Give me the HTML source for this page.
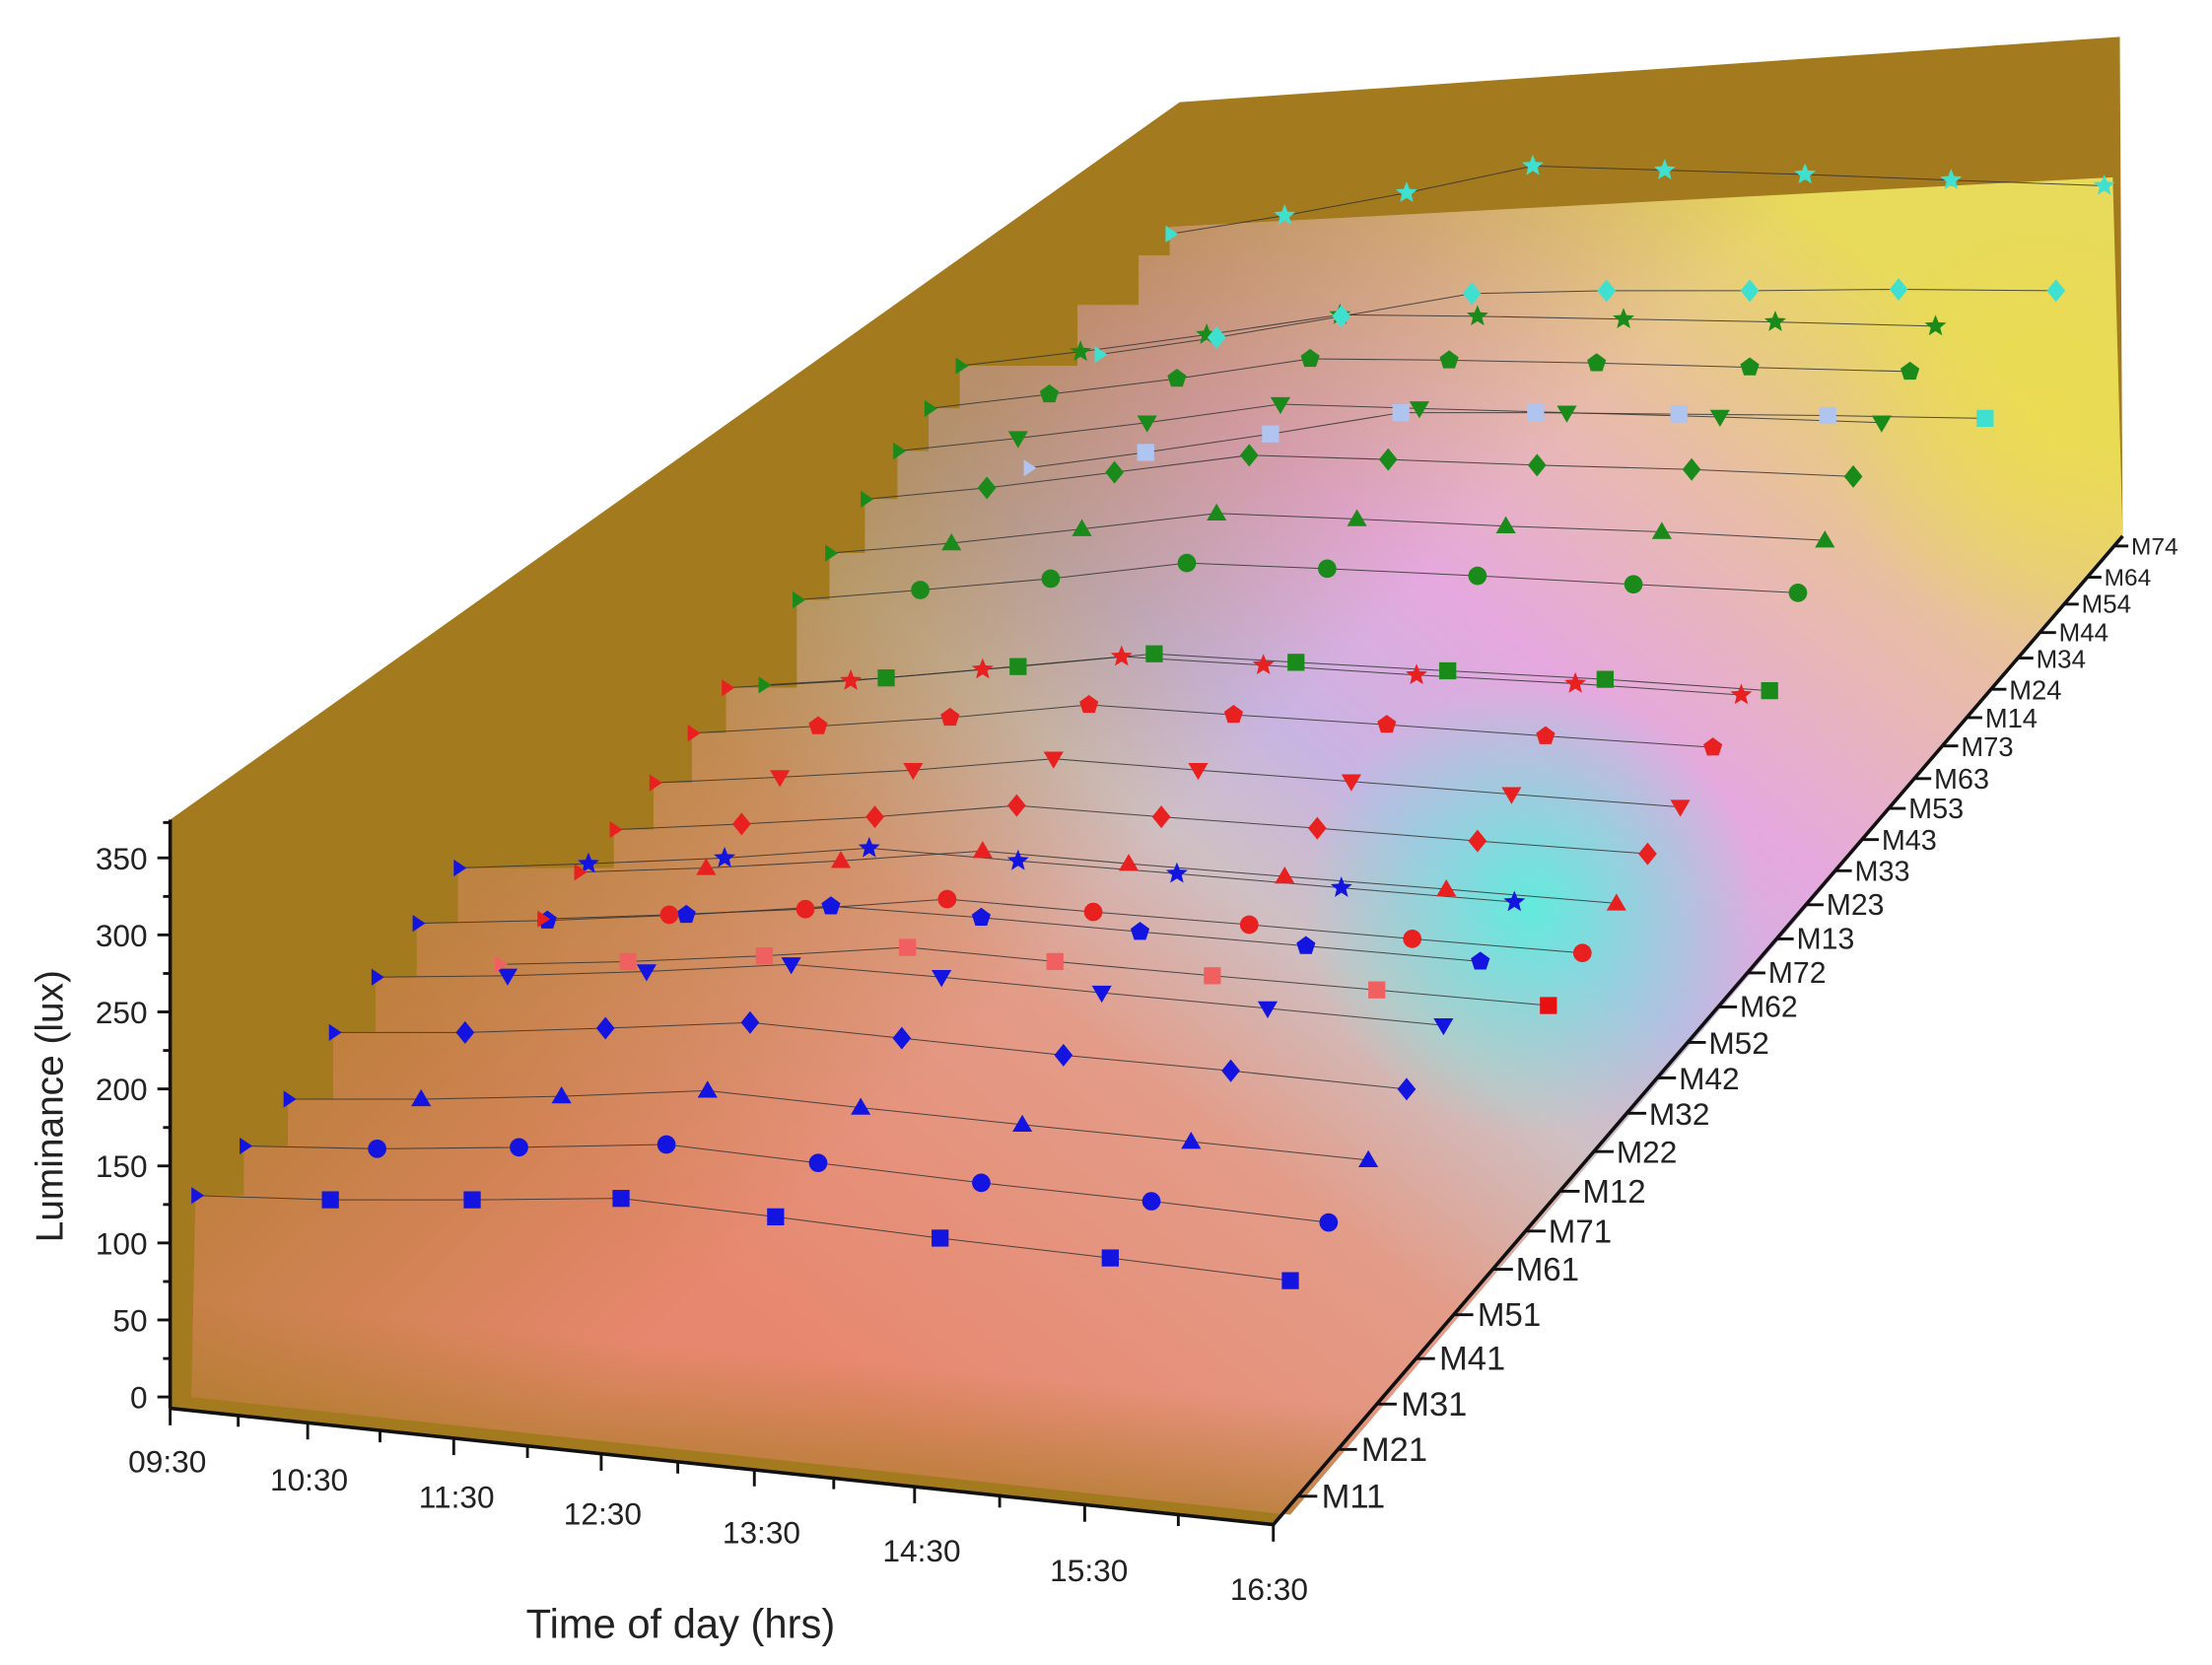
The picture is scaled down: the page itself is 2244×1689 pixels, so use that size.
<!DOCTYPE html>
<html><head><meta charset="utf-8"><style>
html,body{margin:0;padding:0;background:#fff;}
svg{display:block;}
text{font-family:"Liberation Sans",Arial,sans-serif;fill:#222;}
</style></head><body>
<svg width="2244" height="1689" viewBox="0 0 1560 1174" preserveAspectRatio="none" xmlns="http://www.w3.org/2000/svg">
<defs>
<linearGradient id="g1" gradientUnits="userSpaceOnUse" x1="600" y1="980" x2="1250" y2="130">
<stop offset="0" stop-color="#e8876f"/>
<stop offset="0.28" stop-color="#e39c88"/>
<stop offset="0.42" stop-color="#cfc0c4"/>
<stop offset="0.52" stop-color="#c8b4e2"/>
<stop offset="0.66" stop-color="#e6a8de"/>
<stop offset="0.82" stop-color="#e8bca8"/>
<stop offset="1" stop-color="#e8da5a"/>
</linearGradient>
<linearGradient id="g2" gradientUnits="userSpaceOnUse" x1="470" y1="500" x2="690" y2="720">
<stop offset="0" stop-color="#a47a1e" stop-opacity="0.6"/>
<stop offset="1" stop-color="#a47a1e" stop-opacity="0"/>
</linearGradient>
<radialGradient id="g3" gradientUnits="userSpaceOnUse" cx="1080" cy="640" r="160">
<stop offset="0" stop-color="#58f0dc" stop-opacity="0.9"/>
<stop offset="1" stop-color="#58f0dc" stop-opacity="0"/>
</radialGradient>
<radialGradient id="g4" gradientUnits="userSpaceOnUse" cx="1440" cy="300" r="150">
<stop offset="0" stop-color="#ecdc50" stop-opacity="0.8"/>
<stop offset="1" stop-color="#ecdc50" stop-opacity="0"/>
</radialGradient>
<linearGradient id="g5" gradientUnits="userSpaceOnUse" x1="500" y1="950" x2="492" y2="1035">
<stop offset="0" stop-color="#a47a1e" stop-opacity="0"/>
<stop offset="1" stop-color="#a47a1e" stop-opacity="0.65"/>
</linearGradient>
<polygon id="sp" points="135,985 138,843 172,843 172,808 203,808 203,775 235,775 235,728 265,728 265,689 294,689 294,651 323,651 323,612 433,612 433,585 461,585 461,552 488,552 488,517 512,517 512,485 562,485 562,423 585,423 585,390 610,390 610,352 633,352 633,318 655,318 655,288 677,288 677,258 760,258 760,215 803,215 803,180 825,180 825,160 1490,125 1497,378 910,1068"/>
<rect id="m0" x="-6" y="-6" width="12" height="12"/>
<circle id="m1" r="6.5"/>
<polygon id="m2" points="0,-7 7,5 -7,5"/>
<polygon id="m3" points="0,-8 6.5,0 0,8 -6.5,0"/>
<polygon id="m4" points="0,7 7,-5 -7,-5"/>
<polygon id="m5" points="0,-7 6.66,-2.16 4.11,5.66 -4.11,5.66 -6.66,-2.16"/>
<polygon id="m6" points="0,-8 2.06,-2.83 7.61,-2.47 3.33,1.08 4.7,6.47 0,3.5 -4.7,6.47 -3.33,1.08 -7.61,-2.47 -2.06,-2.83"/>
<polygon id="me" points="-3,-6 6,0 -3,6"/>
</defs>
<polygon points="120,578 832,72 1495,26 1497,378 898,1075 120,993" fill="#a47a1e"/>
<use href="#sp" fill="url(#g1)"/>
<use href="#sp" fill="url(#g3)"/>
<use href="#sp" fill="url(#g4)"/>
<use href="#sp" fill="url(#g2)"/>
<use href="#sp" fill="url(#g5)"/>
<g fill="none" stroke="#333" stroke-width="0.7" stroke-opacity="0.85">
<polyline points="138,843 233,846 333,846 438,845 547,858 663,873 783,887 910,903"/>
<polyline points="172,808 266,810 366,809 470,807 577,820 692,834 812,847 937,862"/>
<polyline points="203,775 297,775 396,773 499,769 607,781 721,793 840,805 965,818"/>
<polyline points="235,728 328,728 427,725 529,721 636,732 750,744 868,755 992,768"/>
<polyline points="265,689 358,688 456,685 558,680 664,689 777,700 894,711 1018,723"/>
<polyline points="294,651 386,649 484,645 586,639 692,647 804,657 921,667 1044,678"/>
<polyline points="323,612 415,609 511,605 613,598 718,607 830,616 946,626 1068,636"/>
<polyline points="352,680 443,678 539,674 640,668 744,678 855,688 971,698 1092,709"/>
<polyline points="382,648 472,645 568,641 668,634 771,643 881,652 996,662 1116,672"/>
<polyline points="408,615 498,612 593,607 693,600 796,609 906,618 1020,627 1140,637"/>
<polyline points="433,585 523,581 617,576 717,568 819,576 929,584 1042,593 1162,602"/>
<polyline points="461,552 550,548 644,543 743,535 845,543 953,551 1066,560 1185,569"/>
<polyline points="488,517 577,512 670,506 768,497 870,504 978,511 1090,519 1208,527"/>
<polyline points="512,485 600,480 693,472 791,463 891,469 999,476 1111,482 1228,490"/>
<polyline points="538,483 625,478 718,470 814,461 914,467 1021,473 1132,479 1248,487"/>
<polyline points="562,423 649,416 741,408 837,397 936,401 1042,406 1152,412 1268,418"/>
<polyline points="585,390 671,383 763,373 858,362 957,366 1062,371 1172,375 1287,381"/>
<polyline points="610,352 696,344 786,333 881,321 979,324 1084,328 1193,331 1307,336"/>
<polyline points="633,318 718,309 809,298 903,285 1001,288 1105,291 1213,294 1327,298"/>
<polyline points="655,288 740,278 830,267 924,253 1022,254 1126,256 1234,259 1347,262"/>
<polyline points="677,258 762,248 851,236 945,222 1042,223 1145,225 1252,227 1365,230"/>
<polyline points="725,330 808,319 896,306 988,291 1083,291 1184,292 1289,293 1400,295"/>
<polyline points="775,250 858,238 946,223 1038,207 1133,205 1234,205 1339,204 1450,205"/>
<polyline points="825,165 906,152 992,136 1081,117 1174,120 1273,123 1376,127 1484,131"/>
</g>
<g fill="#1414e0">
<use href="#me" x="138" y="843"/><use href="#m0" x="233" y="846"/><use href="#m0" x="333" y="846"/><use href="#m0" x="438" y="845"/><use href="#m0" x="547" y="858"/><use href="#m0" x="663" y="873"/><use href="#m0" x="783" y="887"/><use href="#m0" x="910" y="903"/>
<use href="#me" x="172" y="808"/><use href="#m1" x="266" y="810"/><use href="#m1" x="366" y="809"/><use href="#m1" x="470" y="807"/><use href="#m1" x="577" y="820"/><use href="#m1" x="692" y="834"/><use href="#m1" x="812" y="847"/><use href="#m1" x="937" y="862"/>
<use href="#me" x="203" y="775"/><use href="#m2" x="297" y="775"/><use href="#m2" x="396" y="773"/><use href="#m2" x="499" y="769"/><use href="#m2" x="607" y="781"/><use href="#m2" x="721" y="793"/><use href="#m2" x="840" y="805"/><use href="#m2" x="965" y="818"/>
<use href="#me" x="235" y="728"/><use href="#m3" x="328" y="728"/><use href="#m3" x="427" y="725"/><use href="#m3" x="529" y="721"/><use href="#m3" x="636" y="732"/><use href="#m3" x="750" y="744"/><use href="#m3" x="868" y="755"/><use href="#m3" x="992" y="768"/>
<use href="#me" x="265" y="689"/><use href="#m4" x="358" y="688"/><use href="#m4" x="456" y="685"/><use href="#m4" x="558" y="680"/><use href="#m4" x="664" y="689"/><use href="#m4" x="777" y="700"/><use href="#m4" x="894" y="711"/><use href="#m4" x="1018" y="723"/>
<use href="#me" x="294" y="651"/><use href="#m5" x="386" y="649"/><use href="#m5" x="484" y="645"/><use href="#m5" x="586" y="639"/><use href="#m5" x="692" y="647"/><use href="#m5" x="804" y="657"/><use href="#m5" x="921" y="667"/><use href="#m5" x="1044" y="678"/>
<use href="#me" x="323" y="612"/><use href="#m6" x="415" y="609"/><use href="#m6" x="511" y="605"/><use href="#m6" x="613" y="598"/><use href="#m6" x="718" y="607"/><use href="#m6" x="830" y="616"/><use href="#m6" x="946" y="626"/><use href="#m6" x="1068" y="636"/>
</g>
<g fill="#f06060">
<use href="#me" x="352" y="680"/><use href="#m0" x="443" y="678"/><use href="#m0" x="539" y="674"/><use href="#m0" x="640" y="668"/><use href="#m0" x="744" y="678"/><use href="#m0" x="855" y="688"/><use href="#m0" x="971" y="698"/>
</g>
<use href="#m0" x="1092" y="709" fill="#e81010"/>
<g fill="#e82020">
<use href="#me" x="382" y="648"/><use href="#m1" x="472" y="645"/><use href="#m1" x="568" y="641"/><use href="#m1" x="668" y="634"/><use href="#m1" x="771" y="643"/><use href="#m1" x="881" y="652"/><use href="#m1" x="996" y="662"/><use href="#m1" x="1116" y="672"/>
<use href="#me" x="408" y="615"/><use href="#m2" x="498" y="612"/><use href="#m2" x="593" y="607"/><use href="#m2" x="693" y="600"/><use href="#m2" x="796" y="609"/><use href="#m2" x="906" y="618"/><use href="#m2" x="1020" y="627"/><use href="#m2" x="1140" y="637"/>
<use href="#me" x="433" y="585"/><use href="#m3" x="523" y="581"/><use href="#m3" x="617" y="576"/><use href="#m3" x="717" y="568"/><use href="#m3" x="819" y="576"/><use href="#m3" x="929" y="584"/><use href="#m3" x="1042" y="593"/><use href="#m3" x="1162" y="602"/>
<use href="#me" x="461" y="552"/><use href="#m4" x="550" y="548"/><use href="#m4" x="644" y="543"/><use href="#m4" x="743" y="535"/><use href="#m4" x="845" y="543"/><use href="#m4" x="953" y="551"/><use href="#m4" x="1066" y="560"/><use href="#m4" x="1185" y="569"/>
<use href="#me" x="488" y="517"/><use href="#m5" x="577" y="512"/><use href="#m5" x="670" y="506"/><use href="#m5" x="768" y="497"/><use href="#m5" x="870" y="504"/><use href="#m5" x="978" y="511"/><use href="#m5" x="1090" y="519"/><use href="#m5" x="1208" y="527"/>
<use href="#me" x="512" y="485"/><use href="#m6" x="600" y="480"/><use href="#m6" x="693" y="472"/><use href="#m6" x="791" y="463"/><use href="#m6" x="891" y="469"/><use href="#m6" x="999" y="476"/><use href="#m6" x="1111" y="482"/><use href="#m6" x="1228" y="490"/>
</g>
<g fill="#1a8a1a">
<use href="#me" x="538" y="483"/><use href="#m0" x="625" y="478"/><use href="#m0" x="718" y="470"/><use href="#m0" x="814" y="461"/><use href="#m0" x="914" y="467"/><use href="#m0" x="1021" y="473"/><use href="#m0" x="1132" y="479"/><use href="#m0" x="1248" y="487"/>
<use href="#me" x="562" y="423"/><use href="#m1" x="649" y="416"/><use href="#m1" x="741" y="408"/><use href="#m1" x="837" y="397"/><use href="#m1" x="936" y="401"/><use href="#m1" x="1042" y="406"/><use href="#m1" x="1152" y="412"/><use href="#m1" x="1268" y="418"/>
<use href="#me" x="585" y="390"/><use href="#m2" x="671" y="383"/><use href="#m2" x="763" y="373"/><use href="#m2" x="858" y="362"/><use href="#m2" x="957" y="366"/><use href="#m2" x="1062" y="371"/><use href="#m2" x="1172" y="375"/><use href="#m2" x="1287" y="381"/>
<use href="#me" x="610" y="352"/><use href="#m3" x="696" y="344"/><use href="#m3" x="786" y="333"/><use href="#m3" x="881" y="321"/><use href="#m3" x="979" y="324"/><use href="#m3" x="1084" y="328"/><use href="#m3" x="1193" y="331"/><use href="#m3" x="1307" y="336"/>
<use href="#me" x="633" y="318"/><use href="#m4" x="718" y="309"/><use href="#m4" x="809" y="298"/><use href="#m4" x="903" y="285"/><use href="#m4" x="1001" y="288"/><use href="#m4" x="1105" y="291"/><use href="#m4" x="1213" y="294"/><use href="#m4" x="1327" y="298"/>
<use href="#me" x="655" y="288"/><use href="#m5" x="740" y="278"/><use href="#m5" x="830" y="267"/><use href="#m5" x="924" y="253"/><use href="#m5" x="1022" y="254"/><use href="#m5" x="1126" y="256"/><use href="#m5" x="1234" y="259"/><use href="#m5" x="1347" y="262"/>
<use href="#me" x="677" y="258"/><use href="#m6" x="762" y="248"/><use href="#m6" x="851" y="236"/><use href="#m6" x="945" y="222"/><use href="#m6" x="1042" y="223"/><use href="#m6" x="1145" y="225"/><use href="#m6" x="1252" y="227"/><use href="#m6" x="1365" y="230"/>
</g>
<g fill="#b0c4f0">
<use href="#me" x="725" y="330"/><use href="#m0" x="808" y="319"/><use href="#m0" x="896" y="306"/><use href="#m0" x="988" y="291"/><use href="#m0" x="1083" y="291"/><use href="#m0" x="1184" y="292"/><use href="#m0" x="1289" y="293"/>
</g>
<g fill="#40e0d0">
<use href="#m0" x="1400" y="295"/>
<use href="#me" x="775" y="250"/><use href="#m3" x="858" y="238"/><use href="#m3" x="946" y="223"/><use href="#m3" x="1038" y="207"/><use href="#m3" x="1133" y="205"/><use href="#m3" x="1234" y="205"/><use href="#m3" x="1339" y="204"/><use href="#m3" x="1450" y="205"/>
<use href="#me" x="825" y="165"/><use href="#m6" x="906" y="152"/><use href="#m6" x="992" y="136"/><use href="#m6" x="1081" y="117"/><use href="#m6" x="1174" y="120"/><use href="#m6" x="1273" y="123"/><use href="#m6" x="1376" y="127"/><use href="#m6" x="1484" y="131"/>
</g>
<g stroke="#111" stroke-width="2.5">
<line x1="120" y1="578" x2="120" y2="993"/>
<line x1="120" y1="993" x2="898" y2="1075"/>
<line x1="898" y1="1075" x2="1497" y2="378"/>
</g>
<g stroke="#111" stroke-width="2">
<line x1="111" y1="985" x2="120" y2="985"/><line x1="111" y1="930.7" x2="120" y2="930.7"/><line x1="111" y1="876.4" x2="120" y2="876.4"/><line x1="111" y1="822.1" x2="120" y2="822.1"/><line x1="111" y1="767.8" x2="120" y2="767.8"/><line x1="111" y1="713.5" x2="120" y2="713.5"/><line x1="111" y1="659.2" x2="120" y2="659.2"/><line x1="111" y1="604.9" x2="120" y2="604.9"/>
<line x1="115" y1="957.9" x2="120" y2="957.9"/><line x1="115" y1="903.6" x2="120" y2="903.6"/><line x1="115" y1="849.3" x2="120" y2="849.3"/><line x1="115" y1="795" x2="120" y2="795"/><line x1="115" y1="740.7" x2="120" y2="740.7"/><line x1="115" y1="686.4" x2="120" y2="686.4"/><line x1="115" y1="632.1" x2="120" y2="632.1"/><line x1="115" y1="580" x2="120" y2="580"/>
<line x1="120" y1="993" x2="120" y2="1005"/><line x1="217" y1="1003" x2="217" y2="1015"/><line x1="320" y1="1014" x2="320" y2="1026"/><line x1="424" y1="1025" x2="424" y2="1037"/><line x1="532" y1="1036" x2="532" y2="1048"/><line x1="645" y1="1048" x2="645" y2="1060"/><line x1="765" y1="1061" x2="765" y2="1073"/><line x1="898" y1="1075" x2="898" y2="1087"/>
<line x1="168" y1="998" x2="168" y2="1006"/><line x1="268" y1="1009" x2="268" y2="1017"/><line x1="372" y1="1020" x2="372" y2="1028"/><line x1="478" y1="1031" x2="478" y2="1039"/><line x1="588" y1="1042" x2="588" y2="1050"/><line x1="705" y1="1055" x2="705" y2="1063"/><line x1="831" y1="1068" x2="831" y2="1076"/>
</g>
<g font-size="22" text-anchor="end">
<text x="104" y="993">0</text><text x="104" y="938.7">50</text><text x="104" y="884.4">100</text><text x="104" y="830.1">150</text><text x="104" y="775.8">200</text><text x="104" y="721.5">250</text><text x="104" y="667.2">300</text><text x="104" y="612.9">350</text>
</g>
<g font-size="22" text-anchor="middle">
<text x="118" y="1038">09:30</text><text x="218" y="1051">10:30</text><text x="322" y="1063">11:30</text><text x="425" y="1075">12:30</text><text x="537" y="1088">13:30</text><text x="650" y="1101">14:30</text><text x="768" y="1115">15:30</text><text x="895" y="1128">16:30</text>
</g>
<g stroke="#111" stroke-width="2">
<line x1="915" y1="1055" x2="929" y2="1055"/><line x1="943" y1="1022" x2="957" y2="1022"/><line x1="971" y1="990" x2="985" y2="990"/><line x1="998" y1="958" x2="1012" y2="958"/><line x1="1025" y1="927" x2="1039" y2="927"/><line x1="1053" y1="895" x2="1067" y2="895"/><line x1="1076" y1="868" x2="1090" y2="868"/><line x1="1100" y1="840" x2="1114" y2="840"/><line x1="1124" y1="812" x2="1138" y2="812"/><line x1="1147" y1="785" x2="1161" y2="785"/><line x1="1169" y1="760" x2="1182" y2="760"/><line x1="1190" y1="735" x2="1203" y2="735"/><line x1="1212" y1="710" x2="1225" y2="710"/><line x1="1232" y1="686" x2="1245" y2="686"/><line x1="1253" y1="662" x2="1265" y2="662"/><line x1="1274" y1="638" x2="1286" y2="638"/><line x1="1294" y1="614" x2="1306" y2="614"/><line x1="1313" y1="592" x2="1325" y2="592"/><line x1="1332" y1="570" x2="1344" y2="570"/><line x1="1350" y1="549" x2="1362" y2="549"/><line x1="1370" y1="526" x2="1381" y2="526"/><line x1="1387" y1="506" x2="1398" y2="506"/><line x1="1404" y1="486" x2="1415" y2="486"/><line x1="1423" y1="464" x2="1434" y2="464"/><line x1="1439" y1="446" x2="1450" y2="446"/><line x1="1456" y1="426" x2="1466" y2="426"/><line x1="1472" y1="407" x2="1482" y2="407"/><line x1="1491" y1="385" x2="1501" y2="385"/>
</g>
<g>
<text x="932" y="1063" font-size="24">M11</text>
<text x="960" y="1030" font-size="24">M21</text>
<text x="988" y="998" font-size="24">M31</text>
<text x="1015" y="966" font-size="24">M41</text>
<text x="1042" y="935" font-size="23">M51</text>
<text x="1069" y="903" font-size="23">M61</text>
<text x="1092" y="876" font-size="23">M71</text>
<text x="1116" y="848" font-size="23">M12</text>
<text x="1140" y="820" font-size="22">M22</text>
<text x="1163" y="793" font-size="22">M32</text>
<text x="1184" y="768" font-size="22">M42</text>
<text x="1205" y="743" font-size="22">M52</text>
<text x="1227" y="717" font-size="21">M62</text>
<text x="1247" y="693" font-size="21">M72</text>
<text x="1267" y="669" font-size="21">M13</text>
<text x="1288" y="645" font-size="21">M23</text>
<text x="1308" y="621" font-size="20">M33</text>
<text x="1327" y="599" font-size="20">M43</text>
<text x="1346" y="577" font-size="20">M53</text>
<text x="1364" y="556" font-size="20">M63</text>
<text x="1383" y="533" font-size="19">M73</text>
<text x="1400" y="513" font-size="19">M14</text>
<text x="1417" y="493" font-size="19">M24</text>
<text x="1436" y="471" font-size="18">M34</text>
<text x="1452" y="452" font-size="18">M44</text>
<text x="1468" y="432" font-size="18">M54</text>
<text x="1484" y="413" font-size="17">M64</text>
<text x="1503" y="391" font-size="17">M74</text>
</g>
<text transform="translate(44,780) rotate(-90)" font-size="27" text-anchor="middle">Luminance (lux)</text>
<text x="480" y="1155" font-size="29" text-anchor="middle">Time of day (hrs)</text>
</svg>
</body></html>
